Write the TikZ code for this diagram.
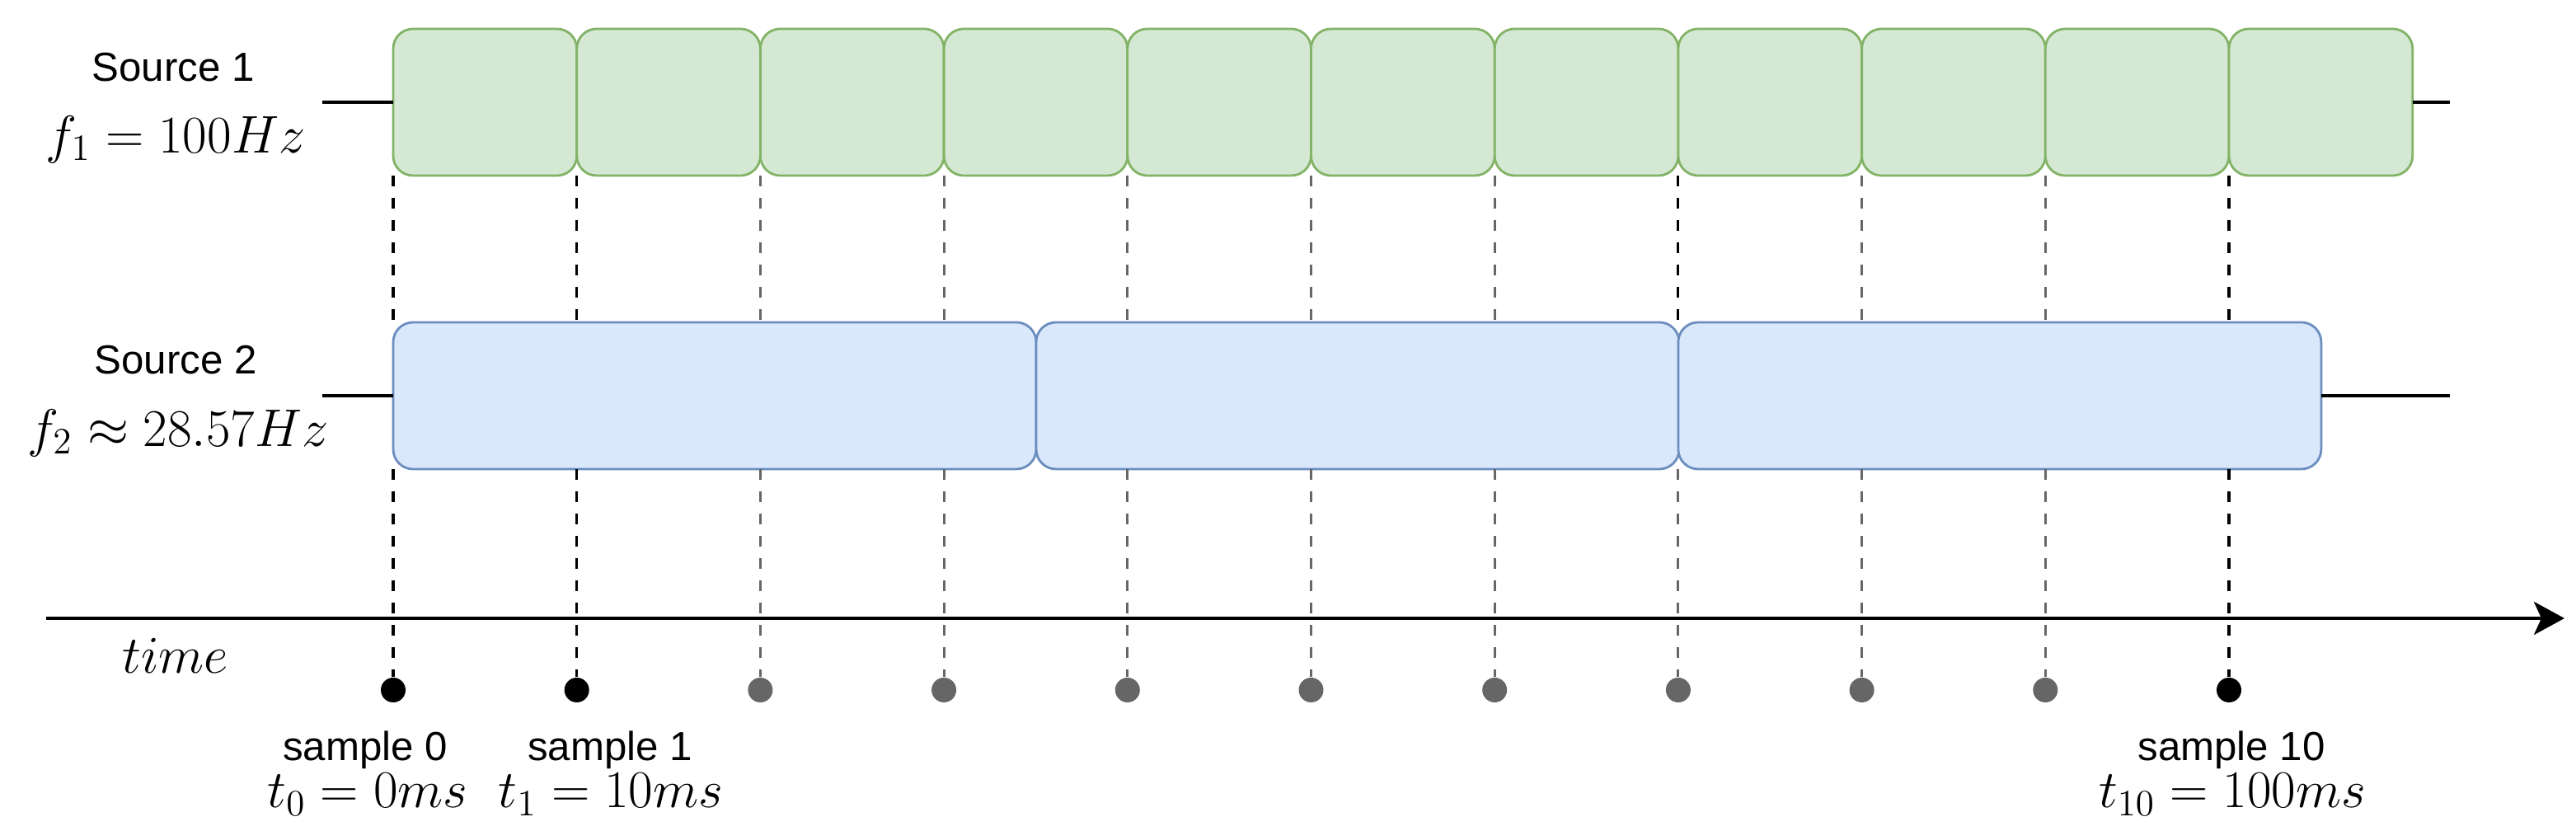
\RequirePackage{fix-cm}
\documentclass[tikz,border=0pt]{standalone}
\usepackage{fontspec}
\setmainfont{Liberation Sans}
\usepackage{tikz}
\usetikzlibrary{arrows.meta}
\definecolor{greenfill}{HTML}{D5E8D4}
\definecolor{greenline}{HTML}{82B366}
\definecolor{bluefill}{HTML}{DAE8FC}
\definecolor{blueline}{HTML}{6C8EBF}
\definecolor{tickgray}{HTML}{666666}
\tikzset{
  greenbox/.style={draw=greenline, fill=greenfill, line width=0.8pt, rounded corners=0.24cm, anchor=west, minimum width=2.227cm, minimum height=1.78cm, inner sep=0pt, outer sep=0pt},
  bluebox/.style={draw=blueline, fill=bluefill, line width=0.8pt, rounded corners=0.24cm, anchor=west, minimum width=7.8cm, minimum height=1.78cm, inner sep=0pt, outer sep=0pt},
  blackdash/.style={line width=0.9pt, black, dash pattern=on 0.13cm off 0.14cm},
  graydash/.style={line width=0.9pt, tickgray, dash pattern=on 0.13cm off 0.14cm},
  blackdot/.style={circle, fill=black, minimum size=0.3cm, inner sep=0pt},
  graydot/.style={circle, fill=tickgray, minimum size=0.3cm, inner sep=0pt},
  srcline/.style={line width=1pt, black},
  lbl/.style={font=\fontsize{14}{17}\selectfont, inner sep=0pt},
  mlbl/.style={font=\fontsize{18.3}{22}\selectfont, inner sep=0pt},
}
\begin{document}
\begin{tikzpicture}
\useasboundingbox (0,0) rectangle (31.25,10.08);
\node[greenbox] (g0) at (4.770,8.84) {};
\node[greenbox] (g1) at (6.997,8.84) {};
\node[greenbox] (g2) at (9.224,8.84) {};
\node[greenbox] (g3) at (11.451,8.84) {};
\node[greenbox] (g4) at (13.678,8.84) {};
\node[greenbox] (g5) at (15.905,8.84) {};
\node[greenbox] (g6) at (18.132,8.84) {};
\node[greenbox] (g7) at (20.359,8.84) {};
\node[greenbox] (g8) at (22.586,8.84) {};
\node[greenbox] (g9) at (24.813,8.84) {};
\node[greenbox] (g10) at (27.040,8.84) {};
\node[bluebox] (b0) at (4.770,5.28) {};
\node[bluebox] (b1) at (12.570,5.28) {};
\node[bluebox] (b2) at (20.359,5.28) {};
\node[blackdot] (d0) at (4.770,1.71) {};
\node[blackdot] (d1) at (6.997,1.71) {};
\node[graydot] (d2) at (9.224,1.71) {};
\node[graydot] (d3) at (11.451,1.71) {};
\node[graydot] (d4) at (13.678,1.71) {};
\node[graydot] (d5) at (15.905,1.71) {};
\node[graydot] (d6) at (18.132,1.71) {};
\node[graydot] (d7) at (20.359,1.71) {};
\node[graydot] (d8) at (22.586,1.71) {};
\node[graydot] (d9) at (24.813,1.71) {};
\node[blackdot] (d10) at (27.040,1.71) {};
\coordinate (s1l) at (3.91,8.84);
\coordinate (s1r) at (29.72,8.84);
\coordinate (s2l) at (3.91,5.28);
\coordinate (s2r) at (29.72,5.28);
\coordinate (ax0) at (0.56,2.58);
\coordinate (ax1) at (31.11,2.58);
\draw[srcline] (s1l) -- (g0.west);
\draw[srcline] (g10.east) -- (s1r);
\draw[srcline] (s2l) -- (b0.west);
\draw[srcline] (b2.east) -- (s2r);
\draw[blackdash] (g0.south west) -- (g0.south west |- b0.north);
\draw[blackdash] (g1.south west) -- (g1.south west |- b0.north);
\draw[graydash] (g2.south west) -- (g2.south west |- b0.north);
\draw[graydash] (g3.south west) -- (g3.south west |- b0.north);
\draw[graydash] (g4.south west) -- (g4.south west |- b0.north);
\draw[graydash] (g5.south west) -- (g5.south west |- b0.north);
\draw[graydash] (g6.south west) -- (g6.south west |- b0.north);
\draw[blackdash] (g7.south west) -- (g7.south west |- b0.north);
\draw[graydash] (g8.south west) -- (g8.south west |- b0.north);
\draw[graydash] (g9.south west) -- (g9.south west |- b0.north);
\draw[blackdash] (g10.south west) -- (g10.south west |- b0.north);
\draw[blackdash] (d0 |- b0.south) -- (d0);
\draw[blackdash] (d1 |- b0.south) -- (d1);
\draw[graydash] (d2 |- b0.south) -- (d2);
\draw[graydash] (d3 |- b0.south) -- (d3);
\draw[graydash] (d4 |- b0.south) -- (d4);
\draw[graydash] (d5 |- b0.south) -- (d5);
\draw[graydash] (d6 |- b0.south) -- (d6);
\draw[graydash] (d7 |- b0.south) -- (d7);
\draw[graydash] (d8 |- b0.south) -- (d8);
\draw[graydash] (d9 |- b0.south) -- (d9);
\draw[blackdash] (d10 |- b0.south) -- (d10);
\draw[line width=1.1pt, black, -{Stealth[length=0.37cm, width=0.40cm, inset=0.09cm]}] (ax0) -- (ax1);
\node[lbl] (src1) at (2.10,9.26) {Source 1};
\node[mlbl] (frq1) at (2.13,8.39) {$f_1 = 100Hz$};
\node[lbl] (src2) at (2.13,5.71) {Source 2};
\node[mlbl] (frq2) at (2.16,4.83) {$f_2 \approx 28.57Hz$};
\node[mlbl] (time) at (2.13,2.13) {$time$};
\node[lbl] (smp0) at (4.43,0.98) {sample 0};
\node[mlbl] (tm0) at (4.46,0.44) {$t_0 = 0ms$};
\node[lbl] (smp1) at (7.40,0.98) {sample 1};
\node[mlbl] (tm1) at (7.41,0.44) {$t_1 = 10ms$};
\node[lbl] (smp10) at (27.07,0.98) {sample 10};
\node[mlbl] (tm10) at (27.08,0.44) {$t_{10} = 100ms$};
\end{tikzpicture}
\end{document}
